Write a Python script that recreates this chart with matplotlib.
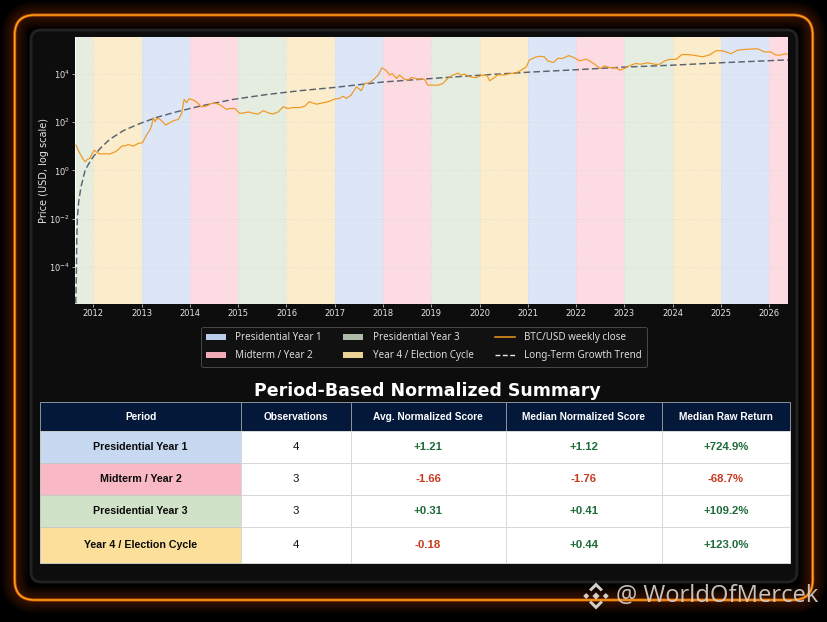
import numpy as np
import matplotlib
matplotlib.use("Agg")
import matplotlib.pyplot as plt
from matplotlib.patches import FancyBboxPatch, Patch, Polygon, Rectangle
from matplotlib.lines import Line2D

# ---------- data ----------
btc_years = [2011.64,2011.69,2011.74,2011.79,2011.83,2011.88,2011.93,2011.97,2012.02,2012.07,2012.14,2012.24,2012.34,2012.45,2012.52,2012.59,2012.66,2012.72,2012.83,2012.93,
 2013.02,2013.10,2013.17,2013.21,2013.24,2013.28,2013.31,2013.38,2013.45,2013.50,2013.59,2013.66,2013.76,2013.83,2013.88,2013.93,2013.98,
 2014.03,2014.10,2014.17,2014.24,2014.34,2014.45,2014.55,2014.63,2014.76,2014.83,2014.93,
 2015.03,2015.14,2015.21,2015.31,2015.41,2015.52,2015.62,2015.72,2015.83,2015.93,
 2016.03,2016.14,2016.28,2016.38,2016.47,2016.62,2016.76,2016.86,
 2017.00,2017.10,2017.17,2017.24,2017.34,2017.45,2017.55,2017.62,2017.72,2017.83,2017.90,2017.98,
 2018.07,2018.14,2018.19,2018.28,2018.34,2018.45,2018.52,2018.59,2018.66,2018.72,2018.86,2018.93,
 2019.03,2019.14,2019.24,2019.34,2019.45,2019.55,2019.62,2019.69,2019.79,2019.93,
 2020.03,2020.15,2020.21,2020.31,2020.38,2020.52,2020.62,2020.76,2020.86,2020.97,
 2021.03,2021.14,2021.24,2021.34,2021.41,2021.53,2021.62,2021.72,2021.85,2021.97,
 2022.07,2022.21,2022.31,2022.41,2022.50,2022.59,2022.69,2022.83,2022.91,
 2023.00,2023.10,2023.23,2023.34,2023.48,2023.62,2023.72,2023.83,2023.93,
 2024.07,2024.19,2024.31,2024.41,2024.62,2024.76,2024.90,
 2025.03,2025.21,2025.34,2025.52,2025.76,2025.90,
 2026.03,2026.14,2026.24,2026.34,2026.39]
btc_log10_close = [1.05,.82,.64,.46,.36,.46,.50,.68,.84,.75,.68,.69,.68,.77,.87,1.01,1.02,1.07,1.01,1.12,
 1.15,1.47,1.67,1.88,2.19,2.02,2.16,2.12,1.99,1.88,1.99,2.06,2.12,2.37,2.95,2.81,2.97,
 2.95,2.89,2.78,2.64,2.67,2.78,2.78,2.71,2.53,2.57,2.57,
 2.37,2.39,2.43,2.37,2.34,2.48,2.39,2.34,2.43,2.64,
 2.57,2.61,2.61,2.67,2.85,2.75,2.81,2.85,
 2.96,2.99,3.08,2.99,3.13,3.47,3.31,3.61,3.64,3.82,3.96,4.26,
 4.14,3.96,4.02,3.82,3.96,3.78,3.75,3.86,3.82,3.79,3.78,3.54,
 3.54,3.54,3.61,3.82,3.96,4.04,3.96,4.00,3.89,3.85,
 3.94,3.96,3.72,3.86,3.97,3.96,4.02,4.05,4.16,4.30,
 4.58,4.69,4.74,4.72,4.55,4.48,4.65,4.65,4.77,4.67,
 4.55,4.62,4.51,4.37,4.23,4.34,4.27,4.26,4.16,
 4.23,4.34,4.44,4.41,4.47,4.41,4.40,4.54,4.61,
 4.61,4.81,4.81,4.79,4.72,4.79,4.97,
 4.97,4.85,4.99,5.03,5.05,4.92,
 4.92,4.79,4.79,4.85,4.81]
trend_years = [2011.635,2011.65,2011.655,2011.67,2011.70,2011.745,2011.83,2011.93,2012.0,2012.14,2012.34,2012.62,2012.97,2013.31,2013.72,2014.21,2014.9,2015.59,2016.28,2016.97,2018.0,2019.24,2020.14,2021.03,2022.0,2023.0,2024.0,2025.0,2026.39]
trend_log10 = [-5.52,-4.0,-2.9,-1.92,-1.23,-0.68,0.01,.36,.57,.91,1.29,1.65,1.95,2.2,2.43,2.67,2.95,3.15,3.31,3.44,3.67,3.85,3.97,4.08,4.18,4.29,4.37,4.47,4.59]

span_starts = [2011.63] + list(range(2012, 2027))
span_ends = list(range(2012, 2027)) + [2026.40]
span_kinds = [2,3,0,1,2,3,0,1,2,3,0,1,2,3,0,1]
span_colors = ['#dce6f7', '#fcdce2', '#e4eddf', '#fbeccb']
legend_patch_colors = ['#b9cdea', '#f2a9b8', '#aebaa8', '#ead195']
period_names = ['Presidential Year 1', 'Midterm / Year 2', 'Presidential Year 3', 'Year 4 / Election Cycle']
period_fill = ['#c6d9f1', '#f9b9c4', '#d0e3c8', '#fbdf9b']
year_ticks = list(range(2012, 2027))
y_ticks = [1e-4, 1e-2, 1e0, 1e2, 1e4]

col_labels = ['Period', 'Observations', 'Avg. Normalized Score', 'Median Normalized Score', 'Median Raw Return']
observations = ['4', '3', '3', '4']
avg_score = ['+1.21', '-1.66', '+0.31', '-0.18']
median_score = ['+1.12', '-1.76', '+0.41', '+0.44']
median_return = ['+724.9%', '-68.7%', '+109.2%', '+123.0%']

W, H = 828, 622
fig = plt.figure(figsize=(W/100, H/100), dpi=100, facecolor='#000000')

def px_axes(x0, y0, x1, y1, **kw):
    return fig.add_axes([x0/W, 1-y1/H, (x1-x0)/W, (y1-y0)/H], **kw)

# ---------- frame ----------
bg = fig.add_axes([0, 0, 1, 1], zorder=0)
bg.set_xlim(0, W); bg.set_ylim(H, 0); bg.axis('off')
def rrect(x0, y0, x1, y1, r, **kw):
    p = FancyBboxPatch((x0, y0), x1-x0, y1-y0, boxstyle=f"round,pad=0,rounding_size={r}", **kw)
    bg.add_patch(p)
    return p
for w in np.arange(28, 2, -1.5):
    rrect(14.7, 15, 812.7, 600, 20, fill=False, edgecolor='#ff5a00', linewidth=w*0.72, alpha=0.017)
rrect(14.7, 15, 812.7, 600, 20, fill=False, edgecolor='#f06a00', linewidth=2.2, alpha=0.7)
rrect(14.7, 15, 812.7, 600, 20, fill=False, edgecolor='#ffa21e', linewidth=1.0)
rrect(31, 30, 797, 582, 10, facecolor='#0d0d0d', edgecolor='#222222', linewidth=2.0)

# ---------- chart ----------
ax = px_axes(75.5, 37, 788.5, 303.5, zorder=2)
ax.set_facecolor('white')
for s, e, k in zip(span_starts, span_ends, span_kinds):
    ax.axvspan(s, e, color=span_colors[k], lw=0, zorder=0)
ax.set_yscale('log')
ax.set_xlim(2011.63, 2026.40)
ax.set_ylim(10**-5.53, 10**5.54)
ax.plot(trend_years, 10**np.array(trend_log10), color='#5a626e', lw=1.05, ls=(0, (4.5, 2.2)), zorder=3)
ax.plot(btc_years, 10**np.array(btc_log10_close), color='#f0981e', lw=0.85, zorder=4)
ax.set_xticks(year_ticks)
ax.set_xticklabels([str(y) for y in year_ticks])
ax.set_yticks(y_ticks)
ax.minorticks_off()
ax.tick_params(colors='#e4e4e4', labelsize=6.0, length=2, width=0.5, pad=2)
ax.grid(True, color='#cfcfcf', lw=0.5, ls=(0, (2.5, 2)), alpha=0.45, zorder=1)
ax.set_axisbelow(False)
for sp in ax.spines.values():
    sp.set_visible(False)
ax.set_ylabel('Price (USD, log scale)', color='#e4e4e4', fontsize=7.0, labelpad=0)

handles = [Patch(facecolor=legend_patch_colors[0], label=period_names[0]),
           Patch(facecolor=legend_patch_colors[1], label=period_names[1]),
           Patch(facecolor=legend_patch_colors[2], label=period_names[2]),
           Patch(facecolor=legend_patch_colors[3], label=period_names[3]),
           Line2D([], [], color='#f0981e', lw=1.1, label='BTC/USD weekly close'),
           Line2D([], [], color='#e8e8e8', lw=1.0, ls=(0, (3.5, 1.8)), label='Long-Term Growth Trend')]
leg = fig.legend(handles=handles, ncol=3, loc='center', bbox_to_anchor=(424/W, 1-346.8/H),
                 prop={'family': 'Noto Sans', 'size': 7.1}, facecolor='#111111', edgecolor='#484848', labelcolor='#dcdcdc',
                 framealpha=1, fancybox=True, borderpad=0.55, labelspacing=0.7,
                 handlelength=2.0, handleheight=0.6, handletextpad=0.95, columnspacing=2.2)
leg.get_frame().set_linewidth(0.7)
leg.set_zorder(3)

# ---------- table ----------
bg.text(427, 391, 'Period-Based Normalized Summary', color='white', fontsize=12.5,
        fontweight='bold', ha='center', va='center', zorder=5)

col_px = [40.3, 241, 350.5, 505.5, 661.7, 790]
row_px = [401.7, 431.3, 462.7, 495.3, 527.3, 563.3]
tax = px_axes(col_px[0], row_px[0], col_px[-1], row_px[-1], zorder=3)
tax.axis('off')
rows = [[period_names[i], observations[i], avg_score[i], median_score[i], median_return[i]] for i in range(4)]
col_w = np.diff(col_px) / (col_px[-1]-col_px[0])
tbl = tax.table(cellText=rows, colLabels=col_labels, colWidths=list(col_w), bbox=[0, 0, 1, 1], cellLoc='center')
tbl.auto_set_font_size(False)
row_h = np.diff(row_px) / (row_px[-1]-row_px[0])
GREEN, RED = '#1f6b3a', '#c8391c'
for (r, c), cell in tbl.get_celld().items():
    cell.set_height(row_h[r])
    cell.set_linewidth(0.7)
    t = cell.get_text()
    t.set_fontfamily('Liberation Sans')
    t.set_fontsize(7.3)
    if r == 0:
        cell.set_facecolor('#04193a'); cell.set_edgecolor('#8c929a')
        t.set_color('white'); t.set_fontweight('bold')
    else:
        cell.set_edgecolor('#d8d8d8')
        if c == 0:
            cell.set_facecolor(period_fill[r-1]); cell.set_edgecolor('#c8c8c8')
            t.set_fontweight('bold'); t.set_color('#0b0b0b'); t.set_fontsize(7.7)
        else:
            cell.set_facecolor('white')
            t.set_fontsize(8.2)
            if c == 1:
                t.set_color('#111111')
            else:
                t.set_fontweight('bold')
                t.set_color(RED if t.get_text().startswith('-') else GREEN)

# ---------- watermark ----------
wm = fig.add_axes([0, 0, 1, 1], zorder=6)
wm.set_xlim(0, W); wm.set_ylim(H, 0); wm.axis('off'); wm.patch.set_alpha(0)
wm.text(616, 596.5, '@ WorldOfMercek', color='#d6d1cd', alpha=0.92, fontsize=17.1,
        family='Open Sans', ha='left', va='center')
cx, cy, C = 596, 596, '#d4cfcb'
def diamond(x, y, r):
    wm.add_patch(Polygon([(x, y-r), (x+r, y), (x, y+r), (x-r, y)], closed=True, color=C, lw=0))
diamond(cx, cy, 3.6)
diamond(cx-9.8, cy, 3.0)
diamond(cx+9.8, cy, 3.0)
for sgn in (-1, 1):
    wm.add_patch(Polygon([(cx, cy+sgn*13.5), (cx+7, cy+sgn*6.5), (cx+4.8, cy+sgn*4.6), (cx, cy+sgn*9.2),
                          (cx-4.8, cy+sgn*4.6), (cx-7, cy+sgn*6.5)], closed=True, color=C, lw=0))

fig.savefig('out.png', dpi=100, facecolor=fig.get_facecolor())
